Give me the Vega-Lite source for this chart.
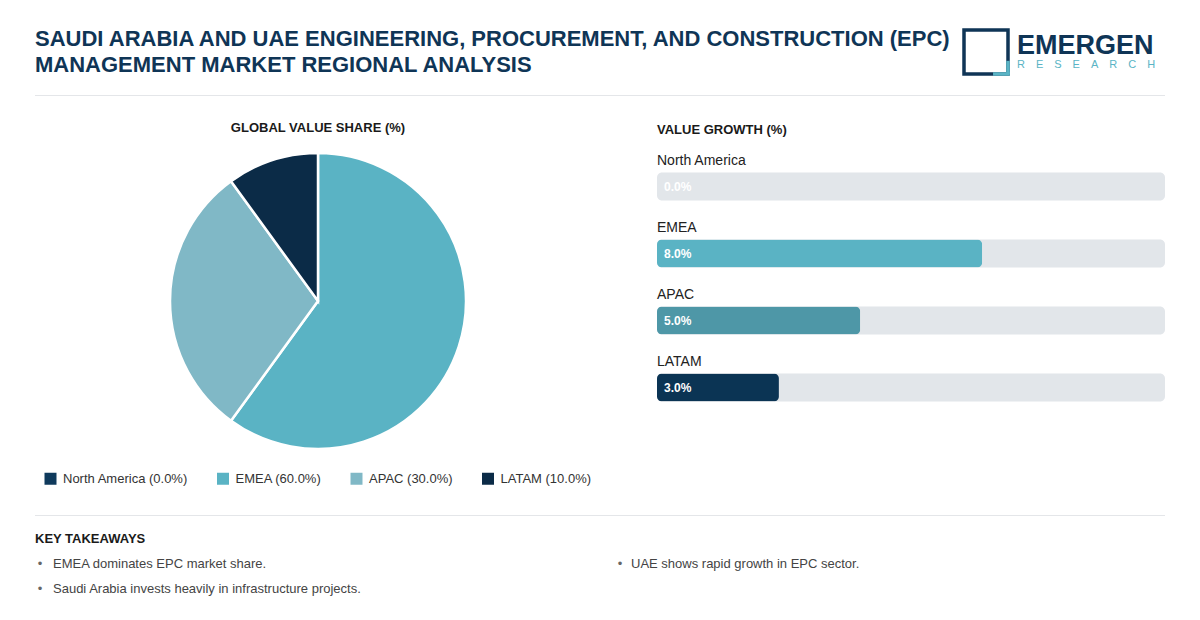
{
  "$schema": "https://vega.github.io/schema/vega-lite/v6.json",
  "background": "white",
  "padding": {"left": 35, "top": 24, "right": 0, "bottom": 0},
  "config": {
    "view": {"stroke": null},
    "font": "Liberation Sans",
    "title": {"font": "Liberation Sans"},
    "text": {"font": "Liberation Sans"},
    "legend": {"labelFont": "Liberation Sans"}
  },
  "datasets": {
    "share": [
      {"region": "North America", "share": 0, "label": "North America (0.0%)", "order": 1},
      {"region": "EMEA", "share": 60, "label": "EMEA (60.0%)", "order": 2},
      {"region": "APAC", "share": 30, "label": "APAC (30.0%)", "order": 3},
      {"region": "LATAM", "share": 10, "label": "LATAM (10.0%)", "order": 4}
    ],
    "growth": [
      {"region": "North America", "growth": 0, "label": "0.0%"},
      {"region": "EMEA", "growth": 8, "label": "8.0%"},
      {"region": "APAC", "growth": 5, "label": "5.0%"},
      {"region": "LATAM", "growth": 3, "label": "3.0%"}
    ],
    "takeaways": [
      {"order": 1, "text": "EMEA dominates EPC market share."},
      {"order": 2, "text": "UAE shows rapid growth in EPC sector."},
      {"order": 3, "text": "Saudi Arabia invests heavily in infrastructure projects."}
    ]
  },
  "spacing": 0,
  "vconcat": [
    {
      "spacing": 9,
      "hconcat": [
        {
          "width": 905,
          "height": 1,
          "title": {
            "text": ["SAUDI ARABIA AND UAE ENGINEERING, PROCUREMENT, AND CONSTRUCTION (EPC)", "MANAGEMENT MARKET REGIONAL ANALYSIS"],
            "orient": "bottom",
            "anchor": "start",
            "fontSize": 22,
            "fontWeight": "bold",
            "color": "#0f3556",
            "lineHeight": 26,
            "offset": -7
          },
          "data": {"values": [{"t": ""}]},
          "mark": {"type": "text"},
          "encoding": {"text": {"field": "t"}}
        },
        {
          "spacing": 3,
          "hconcat": [
            {
              "width": 44,
              "height": 44,
              "view": {"stroke": "#0f3556", "strokeWidth": 3.5},
              "data": {"values": [{"t": ""}]},
              "layer": [
                {
                  "mark": {"type": "rule", "color": "#5ab4c5", "strokeWidth": 3.5},
                  "encoding": {
                    "x": {"datum": 0.66, "type": "quantitative", "scale": {"domain": [0, 1]}, "axis": null},
                    "x2": {"datum": 1.04},
                    "y": {"datum": 0, "type": "quantitative", "scale": {"domain": [0, 1]}, "axis": null}
                  }
                },
                {
                  "mark": {"type": "rule", "color": "#5ab4c5", "strokeWidth": 3.5},
                  "encoding": {
                    "x": {"datum": 1, "type": "quantitative"},
                    "y": {"datum": 0, "type": "quantitative"},
                    "y2": {"datum": 0.3}
                  }
                }
              ]
            },
            {
              "width": 140,
              "height": 1,
              "title": {
                "text": "EMERGEN",
                "subtitle": "R\u2002\u2002E\u2002\u2002S\u2002\u2002E\u2002\u2002A\u2002\u2002R\u2002\u2002C\u2002\u2002H",
                "orient": "bottom",
                "anchor": "start",
                "fontSize": 27,
                "fontWeight": "bold",
                "color": "#0f3556",
                "subtitleFontSize": 11,
                "subtitleColor": "#5ab4c5",
                "subtitlePadding": -1,
                "offset": -3
              },
              "data": {"values": [{"t": ""}]},
              "mark": {"type": "text"},
              "encoding": {"text": {"field": "t"}}
            }
          ]
        }
      ]
    },
    {
      "width": 10,
      "height": 10,
      "data": {"values": [{"t": ""}]},
      "mark": {"type": "text"},
      "encoding": {"text": {"field": "t"}}
    },
    {
      "width": 1130,
      "height": 1,
      "view": {"fill": "#e4e6e9", "stroke": null},
      "data": {"values": [{"t": ""}]},
      "mark": {"type": "text"},
      "encoding": {"text": {"field": "t"}}
    },
    {
      "width": 10,
      "height": 21,
      "data": {"values": [{"t": ""}]},
      "mark": {"type": "text"},
      "encoding": {"text": {"field": "t"}}
    },
    {
      "spacing": 56,
      "resolve": {"scale": {"color": "independent"}, "legend": {"color": "independent"}},
      "hconcat": [
        {
          "width": 566,
          "height": 302,
          "title": {
            "text": "GLOBAL VALUE SHARE (%)",
            "anchor": "middle",
            "fontSize": 13,
            "fontWeight": "bold",
            "color": "#1a1a1a",
            "offset": 13
          },
          "data": {"name": "share"},
          "mark": {"type": "arc", "outerRadius": 148, "stroke": "white", "strokeWidth": 2.5},
          "encoding": {
            "theta": {"field": "share", "type": "quantitative", "stack": true},
            "order": {"field": "order", "type": "quantitative"},
            "color": {
              "field": "label",
              "type": "nominal",
              "scale": {
                "domain": ["North America (0.0%)", "EMEA (60.0%)", "APAC (30.0%)", "LATAM (10.0%)"],
                "range": ["#0f3a5c", "#5ab3c4", "#80b8c6", "#0b2b47"]
              },
              "legend": {
                "orient": "none",
                "legendX": 9,
                "legendY": 322,
                "direction": "horizontal",
                "title": null,
                "symbolType": "square",
                "symbolSize": 144,
                "symbolStrokeWidth": 0,
                "labelFontSize": 13,
                "labelColor": "#333333",
                "labelOffset": 6,
                "columnPadding": 28.5
              }
            }
          }
        },
        {
          "width": 508,
          "height": 268,
          "title": {
            "text": "VALUE GROWTH (%)",
            "anchor": "start",
            "fontSize": 13,
            "fontWeight": "bold",
            "color": "#1a1a1a",
            "offset": 13
          },
          "data": {"name": "growth"},
          "encoding": {
            "y": {
              "field": "region",
              "type": "nominal",
              "sort": ["North America", "EMEA", "APAC", "LATAM"],
              "axis": null,
              "scale": {"paddingInner": 0, "paddingOuter": 0}
            }
          },
          "layer": [
            {
              "mark": {"type": "bar", "size": 28, "cornerRadius": 5, "color": "#e2e6ea", "yOffset": 3},
              "encoding": {
                "x": {"datum": 12.5, "type": "quantitative", "scale": {"domain": [0, 12.5], "nice": false}, "axis": null}
              }
            },
            {
              "mark": {"type": "bar", "size": 28, "cornerRadius": 5, "yOffset": 3, "x2Offset": 8},
              "encoding": {
                "x": {"field": "growth", "type": "quantitative"},
                "color": {
                  "field": "region",
                  "type": "nominal",
                  "scale": {
                    "domain": ["North America", "EMEA", "APAC", "LATAM"],
                    "range": ["#9ea6ae", "#5ab3c4", "#4e97a7", "#0b3454"]
                  },
                  "legend": null
                }
              }
            },
            {
              "mark": {"type": "text", "align": "left", "baseline": "middle", "dx": 7, "dy": 3, "fontSize": 12, "fontWeight": "bold", "color": "white"},
              "encoding": {
                "x": {"datum": 0, "type": "quantitative"},
                "text": {"field": "label"}
              }
            },
            {
              "mark": {"type": "text", "align": "left", "baseline": "middle", "dy": -22.5, "fontSize": 14, "color": "#222222"},
              "encoding": {
                "x": {"datum": 0, "type": "quantitative"},
                "text": {"field": "region"}
              }
            }
          ]
        }
      ]
    },
    {
      "width": 10,
      "height": 23,
      "data": {"values": [{"t": ""}]},
      "mark": {"type": "text"},
      "encoding": {"text": {"field": "t"}}
    },
    {
      "width": 1130,
      "height": 1,
      "view": {"fill": "#e4e6e9", "stroke": null},
      "data": {"values": [{"t": ""}]},
      "mark": {"type": "text"},
      "encoding": {"text": {"field": "t"}}
    },
    {
      "width": 10,
      "height": 12,
      "data": {"values": [{"t": ""}]},
      "mark": {"type": "text"},
      "encoding": {"text": {"field": "t"}}
    },
    {
      "title": {
        "text": "KEY TAKEAWAYS",
        "anchor": "start",
        "fontSize": 13,
        "fontWeight": "bold",
        "color": "#1a1a1a",
        "offset": 5
      },
      "spacing": 18,
      "data": {"name": "takeaways"},
      "hconcat": [
        {
          "width": 562,
          "height": {"step": 25},
          "transform": [{"filter": {"field": "order", "oneOf": [1, 3]}}],
          "encoding": {
            "y": {"field": "order", "type": "ordinal", "axis": null},
            "x": {"datum": 0, "type": "quantitative", "scale": {"domain": [0, 1]}, "axis": null}
          },
          "layer": [
            {
              "mark": {"type": "text", "align": "center", "baseline": "middle", "dx": 5, "fontSize": 13, "color": "#666666"},
              "encoding": {"text": {"value": "•"}}
            },
            {
              "mark": {"type": "text", "align": "left", "baseline": "middle", "dx": 18, "fontSize": 13, "color": "#444444"},
              "encoding": {"text": {"field": "text"}}
            }
          ]
        },
        {
          "width": 540,
          "height": {"step": 25},
          "transform": [{"filter": {"field": "order", "equal": 2}}],
          "encoding": {
            "y": {"field": "order", "type": "ordinal", "axis": null},
            "x": {"datum": 0, "type": "quantitative", "scale": {"domain": [0, 1]}, "axis": null}
          },
          "layer": [
            {
              "mark": {"type": "text", "align": "center", "baseline": "middle", "dx": 5, "fontSize": 13, "color": "#666666"},
              "encoding": {"text": {"value": "•"}}
            },
            {
              "mark": {"type": "text", "align": "left", "baseline": "middle", "dx": 16, "fontSize": 13, "color": "#444444"},
              "encoding": {"text": {"field": "text"}}
            }
          ]
        }
      ]
    }
  ]
}
